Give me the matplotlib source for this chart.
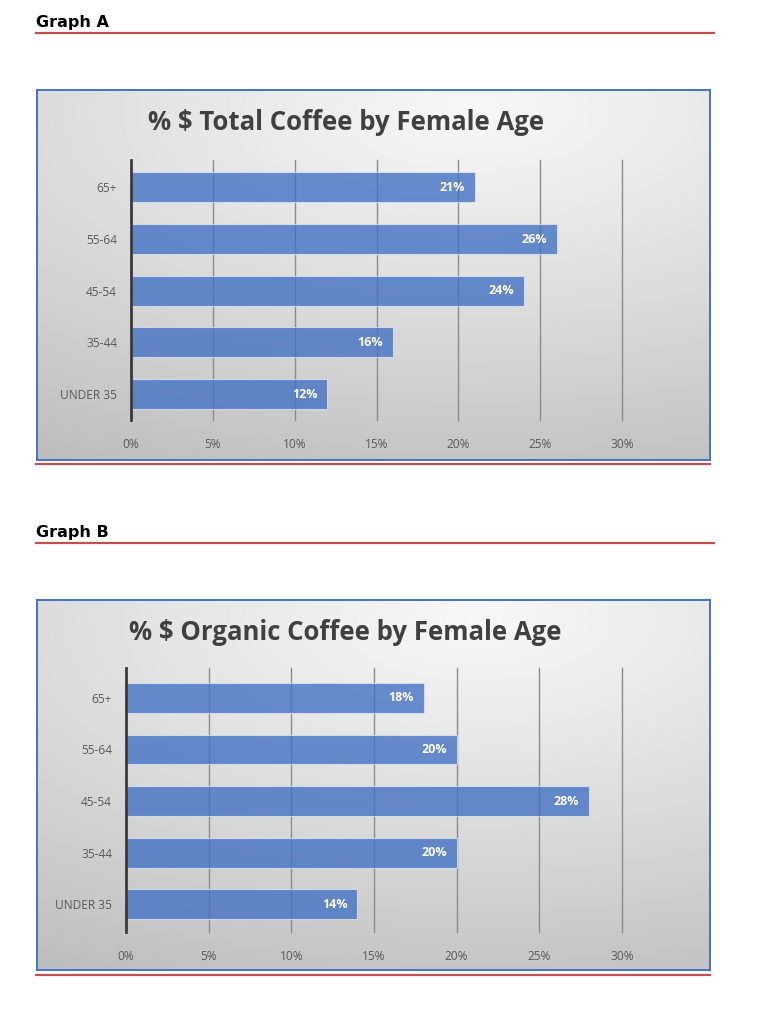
import numpy as np
import matplotlib
matplotlib.use("Agg")
import matplotlib.pyplot as plt
from matplotlib.lines import Line2D

# ---- data ----
categories = ["UNDER 35", "35-44", "45-54", "55-64", "65+"]
total_values = [12, 16, 24, 26, 21]
organic_values = [14, 20, 28, 20, 18]
x_ticks = [0, 5, 10, 15, 20, 25, 30]
x_tick_labels = ["0%", "5%", "10%", "15%", "20%", "25%", "30%"]
title_a = "% $ Total Coffee by Female Age"
title_b = "% $ Organic Coffee by Female Age"

W, H = 764, 1024
fig = plt.figure(figsize=(W / 100, H / 100), dpi=100)
fig.patch.set_facecolor("white")


def rect(x0, y0, x1, y1):
    return [x0 / W, 1 - y1 / H, (x1 - x0) / W, (y1 - y0) / H]


def hline(x0, x1, y, color="#c0504d", lw=1.6):
    fig.add_artist(Line2D([x0 / W, x1 / W], [1 - y / H, 1 - y / H],
                          color=color, lw=lw, transform=fig.transFigure))


def gradient_bg(box):
    ax = fig.add_axes(rect(*box), zorder=0)
    ny, nx = 200, 300
    yy, xx = np.mgrid[0:1:ny * 1j, 0:1:nx * 1j]
    cx, cy = 0.65, 0.05
    d = np.sqrt(((xx - cx) * 1.0) ** 2 + ((yy - cy) * 1.2) ** 2)
    d = d / d.max()
    v = 0.97 - 0.23 * d ** 1.1
    img = np.dstack([v, v, v])
    ax.imshow(img, aspect="auto", extent=[0, 1, 0, 1], origin="upper")
    ax.set_xticks([])
    ax.set_yticks([])
    for s in ax.spines.values():
        s.set_color("#4472c4")
        s.set_linewidth(1.4)
    return ax


def chart(box, axbox, title, title_xy, values, ylim):
    gradient_bg(box)
    ax = fig.add_axes(rect(*axbox), zorder=2)
    ax.patch.set_alpha(0)
    y = np.arange(len(categories))
    for t in x_ticks[1:]:
        ax.axvline(t, color="#8c8c8c", lw=1.0, zorder=1, clip_on=False)
    ax.barh(y, values, height=0.58, color="#4472c4", alpha=0.8,
            edgecolor="#dde4f3", linewidth=0.8, zorder=2)
    ax.axvline(0, color="#3a3a3a", lw=2.0, zorder=3, clip_on=False)
    for yi, v in zip(y, values):
        ax.annotate(f"{v}%", (v, yi), xytext=(-7, 0), textcoords="offset points",
                    ha="right", va="center", color="white", fontsize=9,
                    fontweight="bold", family="Open Sans", zorder=4)
    ax.set_xlim(0, 30)
    ax.set_ylim(*ylim)
    ax.set_xticks(x_ticks)
    ax.set_xticklabels(x_tick_labels)
    ax.set_yticks(y)
    ax.set_yticklabels(categories)
    ax.tick_params(axis="both", length=0, colors="#595959", labelsize=8.6)
    ax.tick_params(axis="x", pad=13)
    ax.tick_params(axis="y", pad=10)
    for lab in ax.get_xticklabels() + ax.get_yticklabels():
        lab.set_family("Open Sans")
    for s in ax.spines.values():
        s.set_visible(False)
    fig.text(title_xy[0] / W, 1 - title_xy[1] / H, title, ha="center", va="center",
             fontsize=18.5, fontweight="bold", color="#404040", family="Open Sans",
             zorder=5)


# Graph A
fig.text(36 / W, 1 - 22 / H, "Graph A", ha="left", va="center", fontsize=11.5,
         fontweight="bold", family="DejaVu Sans", color="black")
hline(36, 714, 33)
chart((37, 90, 710, 460), (131, 160, 622, 420), title_a, (346, 122),
      total_values, (-0.5, 4.53))
hline(36, 710, 464)

# Graph B
fig.text(36 / W, 1 - 533 / H, "Graph B", ha="left", va="center", fontsize=11.5,
         fontweight="bold", family="DejaVu Sans", color="black")
hline(36, 714, 543)
chart((37, 600, 710, 970), (126, 668, 622, 932), title_b, (345, 633),
      organic_values, (-0.54, 4.58))
hline(36, 710, 975)

fig.savefig("out.png", dpi=100)
